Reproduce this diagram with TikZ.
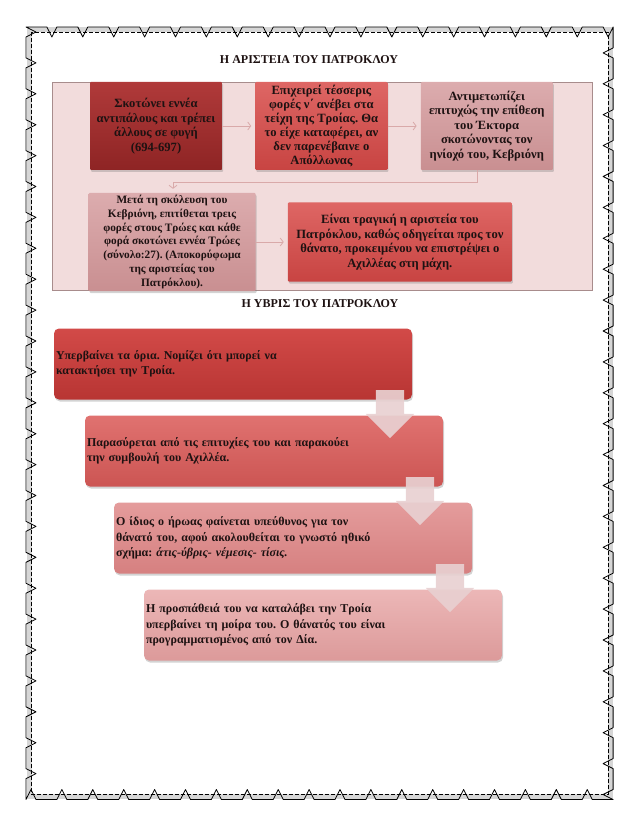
\documentclass[tikz,border=0pt]{standalone}
\usepackage{fontspec}
\setmainfont{Liberation Serif}
\usepackage{xcolor}
\usetikzlibrary{positioning}
\usetikzlibrary{arrows.meta}
\usetikzlibrary{shadows}
\usetikzlibrary{shapes.arrows}
\definecolor{ink}{HTML}{1E1212}
\definecolor{panel_fill}{HTML}{F2DCDC}
\definecolor{panel_line}{HTML}{A88C8C}
\definecolor{flow_color}{HTML}{D9A9A9}
\definecolor{arrow_fill}{HTML}{E8D0D1}
\definecolor{band_grey}{HTML}{D6D6D6}
\definecolor{deep_top}{HTML}{B03A3A}
\definecolor{deep_bot}{HTML}{8E2424}
\definecolor{red_top}{HTML}{DE6664}
\definecolor{red_bot}{HTML}{C84442}
\definecolor{rose_top}{HTML}{DCACAE}
\definecolor{rose_bot}{HTML}{C98F91}
\definecolor{hyb1_top}{HTML}{D24A48}
\definecolor{hyb1_bot}{HTML}{B83533}
\definecolor{hyb2_top}{HTML}{E07270}
\definecolor{hyb2_bot}{HTML}{CC5553}
\definecolor{hyb3_top}{HTML}{E49C9C}
\definecolor{hyb3_bot}{HTML}{D68080}
\definecolor{hyb4_top}{HTML}{ECB7B7}
\definecolor{hyb4_bot}{HTML}{DC9A9A}
\frenchspacing

\begin{document}
\begin{tikzpicture}[
    x=1pt, y=-1pt,
    node distance=33pt,
    card/.style={rounded corners=1pt, align=center, text=ink, inner sep=1pt,
                 minimum width=132pt, minimum height=88pt,
                 font=\fontsize{12.6}{14.6}\selectfont\bfseries,
                 drop shadow={opacity=0.35, shadow xshift=1pt, shadow yshift=-2pt}},
    stair/.style={rounded corners=5pt, align=left, text width=354pt,
                  inner xsep=2pt, minimum height=71pt, text=ink,
                  font=\fontsize{12}{15.5}\selectfont\bfseries,
                  drop shadow={opacity=0.35, shadow xshift=1pt, shadow yshift=-2pt}},
    downarrow/.style={single arrow, fill=arrow_fill, opacity=0.92, rotate=-90,
                      inner xsep=0pt, inner ysep=14pt, minimum width=0pt,
                      minimum height=48pt, single arrow head extend=10pt},
    flow/.style={draw=flow_color, line width=0.8pt, shorten >=4pt,
                 -{Straight Barb[length=3pt,width=8pt]}},
    heading/.style={text=ink, font=\fontsize{12}{14}\selectfont\bfseries}]
    \useasboundingbox (0,0) rectangle (638,826);

    % page border
    \draw[band_grey, line width=5pt] (29,30) rectangle (610,796);
    \draw[line width=0.6pt, dash pattern=on 4pt off 2pt] (31,32) rectangle (608,794);
    \draw[line width=0.8pt, line join=round] (26,27)
      foreach \i in {1,...,19} {-- ++(20.9,0) -- ++(5,10) -- ++(5,-10)}
      foreach \i in {1,...,25} {-- ++(0,20.9) -- ++(-10,5) -- ++(10,5)}
      foreach \i in {1,...,19} {-- ++(-20.9,0) -- ++(-5,-10) -- ++(-5,10)}
      foreach \i in {1,...,25} {-- ++(0,-20.9) -- ++(10,-5) -- ++(-10,-5)}
      -- cycle;

    % aristeia
    \node[heading] (title_a) at (309,60) {Η ΑΡΙΣΤΕΙΑ ΤΟΥ ΠΑΤΡΟΚΛΟΥ};
    \node[draw=panel_line, fill=panel_fill, minimum width=540pt,
          minimum height=208pt] (panel) at (322,186) {};
    \node[card, top color=deep_top, bottom color=deep_bot]
      (kill) at (156,126) {Σκοτώνει εννέα\\αντιπάλους και τρέπει\\άλλους σε φυγή\\(694-697)};
    \node[card, top color=red_top, bottom color=red_bot, right=of kill,
          font=\fontsize{12.6}{14.1}\selectfont\bfseries]
      (walls) {Επιχειρεί τέσσερις\\φορές ν΄ ανέβει στα\\τείχη της Τροίας. Θα\\το είχε καταφέρει, αν\\δεν παρενέβαινε ο\\Απόλλωνας};
    \node[card, top color=rose_top, bottom color=rose_bot, right=of walls]
      (hector) {Αντιμετωπίζει\\επιτυχώς την επίθεση\\του Έκτορα\\σκοτώνοντας τον\\ηνίοχό του, Κεβριόνη};
    \node[card, top color=rose_top, bottom color=rose_bot,
          minimum width=167pt, minimum height=98pt,
          font=\fontsize{11.3}{13.8}\selectfont\bfseries]
      (spoil) at (172,242) {Μετά τη σκύλευση του\\Κεβριόνη, επιτίθεται τρεις\\φορές στους Τρώες και κάθε\\φορά σκοτώνει εννέα Τρώες\\(σύνολο:27). (Αποκορύφωμα\\της αριστείας του\\Πατρόκλου).};
    \node[card, top color=red_top, bottom color=red_bot,
          minimum width=224pt, minimum height=79pt, right=32pt of spoil]
      (tragic) {Είναι τραγική η αριστεία του\\Πατρόκλου, καθώς οδηγείται προς τον\\θάνατο, προκειμένου να επιστρέψει ο\\Αχιλλέας στη μάχη.};
    \draw[flow] (kill) -- (walls);
    \draw[flow] (walls) -- (hector);
    \draw[flow] ([xshift=-9pt]hector.south) -- ++(0,12) -| ([xshift=1pt]spoil.north);
    \draw[flow] (spoil) -- (tragic);

    % hybris
    \node[heading] (title_h) at (320,304) {Η ΥΒΡΙΣ ΤΟΥ ΠΑΤΡΟΚΛΟΥ};
    \node[stair, top color=hyb1_top, bottom color=hyb1_bot] (hyb1) at (233,364)
      {Υπερβαίνει τα όρια. Νομίζει ότι μπορεί να\\κατακτήσει την Τροία.};
    \node[stair, top color=hyb2_top, bottom color=hyb2_bot] (hyb2) at (264,451)
      {Παρασύρεται από τις επιτυχίες του και παρακούει\\την συμβουλή του Αχιλλέα.};
    \node[stair, top color=hyb3_top, bottom color=hyb3_bot] (hyb3) at (293,538)
      {Ο ίδιος ο ήρωας φαίνεται υπεύθυνος για τον\\θάνατό του, αφού ακολουθείται το γνωστό ηθικό\\σχήμα: \textit{άτις-ύβρις- νέμεσις- τίσις.}};
    \node[stair, top color=hyb4_top, bottom color=hyb4_bot] (hyb4) at (323,625)
      {Η προσπάθειά του να καταλάβει την Τροία\\υπερβαίνει τη μοίρα του. Ο θάνατός του είναι\\προγραμματισμένος από τον Δία.};
    \node[downarrow] (step1) at (390,407) {};
    \node[downarrow] (step2) at (420,494) {};
    \node[downarrow] (step3) at (450,581) {};
\end{tikzpicture}
\end{document}
